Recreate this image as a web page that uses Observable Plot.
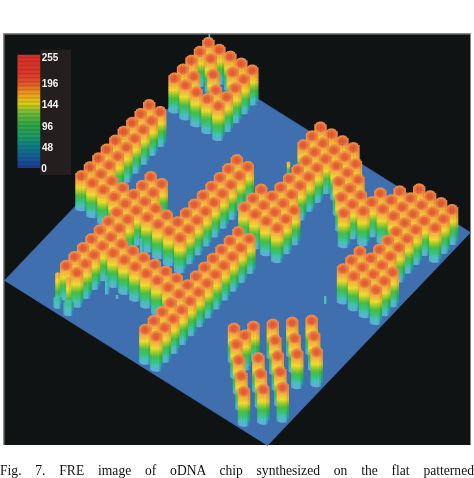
<!DOCTYPE html>
<html>
<head>
<meta charset="utf-8">
<script src="https://cdn.jsdelivr.net/npm/d3@7"></script>
<script src="https://cdn.jsdelivr.net/npm/@observablehq/plot@0.6"></script>
<style>
html,body{margin:0;padding:0;background:#fff;overflow:hidden;width:474px;height:478px}
#chart svg{display:block}
#cap{font:13.6px/18px "Liberation Serif",serif;color:#111;text-align:justify;text-align-last:justify;width:474px;height:18px;padding-top:2px;overflow:hidden;white-space:normal;filter:blur(.3px)}
</style>
</head>
<body>
<div id="chart"></div>
<div id="cap"></div>
<script>
// chip pattern: one entry per chip row, listing occupied spots
const chipRows = [
  "2 6 13-15 20-22",
  "1 3 5 7 13-22",
  "0 2 4 6 8 13-22",
  "1 3 5 7 13-15 19-22",
  "2 6 19-21",
  "3-5 18-20",
  "4 17-19",
  "18-20",
  "19-21",
  "13-15 20-22",
  "0-11 13-22",
  "0-11 13-22",
  "4 5 13-15 20-22",
  "4 5",
  "4 5 8-16",
  "4 5 8-16",
  "4 5 8 9",
  "4 5 8 9",
  "1-11",
  "1-11 19-23",
  "8 9 19 20 22 23",
  "8 9 19 21 23",
  "8-16 19 20 22 23",
  "8-16 19-23"
];
const chipSize = 24;
const pillarHeight = 32;
// weak spots and small defects: row, spot, height, half width, top of colour range
const defects = [
  {i:18, j:0, h:34, r:2.4, peak:.88},
  {i:18, j:0, h:9,  r:5,   peak:.16},
  {i:19, j:0, h:32, r:2.2, peak:.8},
  {i:19, j:0, h:7,  r:4,   peak:.14},
  {i:16.9, j:3.13, h:15, r:2, peak:.14},
  {i:16.07, j:3.22, h:2, r:1, peak:.1},
  {i:16.88, j:7.21, h:17, r:2, peak:.15},
  {i:12.97, j:19.47, h:12, r:1.5, peak:.8},
  {i:3.91, j:12.07, h:6, r:1, peak:.1},
  {i:23.3, j:23.5, h:34, r:.6, peak:0}
];
const legendTicks = [0, 48, 96, 144, 192, 250];
const legendLabels = ["0", "48", "96", "144", "196", "255"];
const legendStops = [0, 22, 48, 70, 96, 122, 144, 165, 192, 215, 255];
const legendColors = ["#1c3c92", "#165a94", "#0f7d86", "#1f9a66", "#2fa844", "#6fb838", "#dccd12", "#eda01c", "#e2502a", "#da352a", "#d62f2a"];
const caption = "Fig. 7. FRE image of oDNA chip synthesized on the flat patterned";

const view = {ox:267, oy:445, ix:-10.96, iy:-6.88, jx:8.46, jy:-8.88};
const px = (i, j) => view.ox + view.ix * i + view.jx * j;
const py = (i, j) => view.oy + view.iy * i + view.jy * j;

const spots = chipRows.flatMap((row, i) => row.split(" ").flatMap(s => {
  const [a, b = a] = s.split("-").map(Number);
  return d3.range(a, b + 1).map(j => ({i, j, h: pillarHeight, r: 6, peak: 1}));
})).concat(defects);
spots.forEach(p => { p.bx = px(p.i + .5, p.j + .5); p.by = py(p.i + .5, p.j + .5); });
spots.sort((a, b) => a.by - b.by);

const tStops = [0, .08, .22, .38, .52, .64, .78, 1];
const lit  = d3.scaleLinear().domain(tStops).range(["#5cb4d2", "#4cc2bc", "#3cc47c", "#48bf42", "#a8cc2c", "#f4dc30", "#f6b83e", "#f2944a"]);
const dark = d3.scaleLinear().domain(tStops).range(["#1c5e9e", "#1a86a2", "#189a5c", "#2ca434", "#84a824", "#d4b024", "#e09434", "#e27c3c"]);
const face = d3.scaleLinear().domain([0, .6, 1]).range(["#e4552f", "#e86238", "#f09048"]);
const legendColor = d3.scaleLinear().domain(legendStops).range(legendColors);

function makeTemplate({h, r, peak}) {
  const out = [], strips = r > 3 ? 8 : r > 1.2 ? 3 : 1, ry = r * .95, step = 1.5;
  for (let k = 0; k < strips; k++) {
    const d0 = -1 + 2 * k / strips, d1 = d0 + 2 / strips, mid = (d0 + d1) / 2;
    const edge = Math.sqrt(Math.max(0, 1 - mid * mid));
    const shade = mid < -.6 ? .15 * (-mid - .6) / .4 : mid < .35 ? 0 : Math.pow((mid - .35) / .65, 1.2) * .9;
    const zTop = h + ry * edge, zBot = -.5 * ry * edge;
    for (let z = zBot; z < zTop; z += step) {
      const zm = z + step / 2;
      const t = Math.max(0, Math.min(1, zm / h)) * peak;
      let c = d3.interpolateRgb(lit(t), dark(t))(shade);
      if (peak === 1) {
        const d = Math.hypot(mid, (zm - h) / ry);
        if (d < 1) c = d3.interpolateRgb(face(d), c)(Math.pow(d, 4));
      }
      out.push({dx0: d0 * r, dx1: d1 * r + .35, z0: z - .5, z1: Math.min(z + step, zTop), c});
    }
  }
  return out;
}
const cache = new Map();
const slices = spots.flatMap(p => {
  const key = [p.h, p.r, p.peak].join();
  if (!cache.has(key)) cache.set(key, makeTemplate(p));
  return cache.get(key).map(s => ({x1: p.bx + s.dx0, x2: p.bx + s.dx1, y1: p.by - s.z0, y2: p.by - s.z1, fill: s.c}));
});

const plane = [[0, 0], [chipSize, 0], [chipSize, chipSize], [0, chipSize]].map(([i, j]) => ({x: px(i, j), y: py(i, j)}));
const legendY = v => 168 - v * 113 / 255;
const legendBands = d3.range(0, 255, 3).map(v => ({v, y1: legendY(v), y2: legendY(v + 3.6)}));

const chart = Plot.plot({
  width: 474, height: 460, margin: 0,
  x: {domain: [0, 474], range: [0, 474], axis: null},
  y: {domain: [0, 460], range: [0, 460], axis: null},
  color: {type: "identity"},
  style: {background: "#fff", filter: "blur(.6px)"},
  marks: [
    Plot.rect([{x1: 3.5, x2: 470.5, y1: 33.5, y2: 445}], {x1: "x1", x2: "x2", y1: "y1", y2: "y2", fill: "#101313"}),
    Plot.ruleY([33.5], {x1: 3, x2: 471, stroke: "#8a8a8a", strokeWidth: 1}),
    Plot.ruleX([3.5], {y1: 33, y2: 445, stroke: "#8a8a8a", strokeWidth: 1}),
    Plot.line([...plane, plane[0]], {x: "x", y: "y", fill: "#3f6fae", stroke: "#3f6fae", strokeWidth: .5}),
    Plot.rect([{x1: 40, x2: 71, y1: 49.5, y2: 175}], {x1: "x1", x2: "x2", y1: "y1", y2: "y2", fill: "#241f1e"}),
    Plot.rect(legendBands, {x1: () => 17.5, x2: () => 40.2, y1: "y1", y2: "y2", fill: d => legendColor(d.v)}),
    Plot.text(legendTicks.map((v, k) => ({v, s: legendLabels[k]})), {
      x: d => d.s.length > 2 ? 49.5 : d.s.length > 1 ? 47 : 43.5, y: d => legendY(d.v) + .5, text: "s",
      fill: "#f4f4f4", fontWeight: "bold", fontSize: 10, fontFamily: "Liberation Sans, sans-serif"
    }),
    Plot.rect(slices, {x1: "x1", x2: "x2", y1: "y1", y2: "y2", fill: "fill"})
  ]
});
document.getElementById("chart").appendChild(chart);
document.getElementById("cap").textContent = caption;
</script>
</body>
</html>
